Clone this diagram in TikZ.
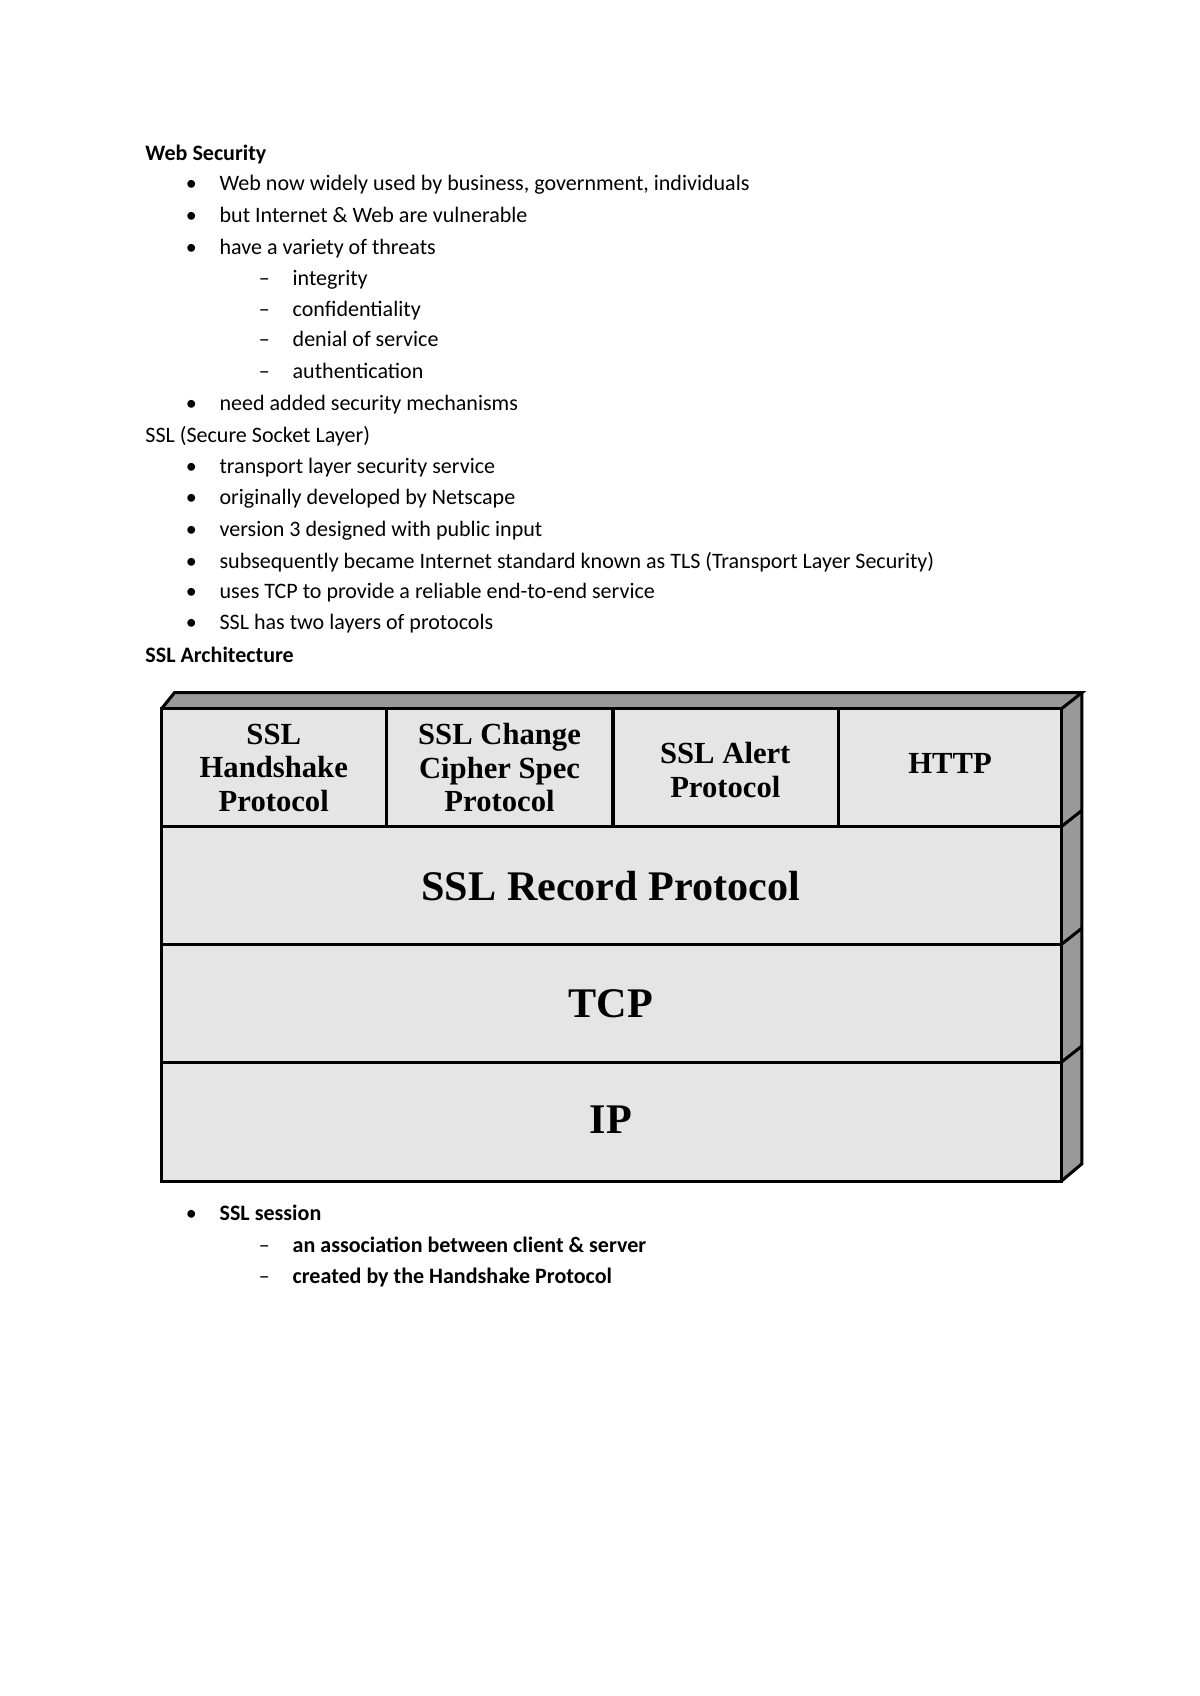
\documentclass[tikz,border=0pt]{standalone}
\usepackage{fontspec}
\setmainfont{Carlito}
\newfontfamily\tms{Liberation Serif}
\begin{document}
\begin{tikzpicture}[x=0.02cm,y=-0.02cm,
  txt/.style={anchor=base west,inner sep=0pt,font=\fontsize{11.5}{14}\selectfont},
  hd/.style={txt,font=\fontsize{11.5}{14}\selectfont\bfseries},
  cell/.style={align=center,font=\tms\bfseries\fontsize{16}{17.5}\selectfont,inner sep=0pt},
  big/.style={font=\tms\bfseries\fontsize{22}{24}\selectfont,inner sep=0pt},
  fr/.style={draw=black,line width=1.6pt}]
\useasboundingbox (0,0) rectangle (1100,1555);
% text
\node[hd] (h1) at (133,147) {Web Security};
\foreach \y/\t in {175/{Web now widely used by business, government, individuals},
  204/{but Internet \& Web are vulnerable}, 233/{have a variety of threats},
  376/{need added security mechanisms}, 434/{transport layer security service},
  463/{originally developed by Netscape}, 492/{version 3 designed with public input},
  521/{subsequently became Internet standard known as TLS (Transport Layer Security)},
  549/{uses TCP to provide a reliable end-to-end service}, 577/{SSL has two layers of protocols}}
  {\node[txt] at (170,\y) {•}; \node[txt] at (201,\y) {\t};}
\foreach \y/\t in {262/integrity,290/confidentiality,318/denial of service,347/authentication}
  {\node[txt] at (237,\y) {–}; \node[txt] at (268,\y) {\t};}
\node[txt] (h2) at (133,406) {SSL (Secure Socket Layer)};
\node[hd] (h3) at (133,607) {SSL Architecture};
\node[txt] at (170,1119) {•}; \node[hd] at (201,1119) {SSL session};
\node[txt] at (237,1148) {–}; \node[hd] at (268,1148) {an association between client \& server};
\node[txt] at (237,1177) {–}; \node[hd] at (268,1177) {created by the Handshake Protocol};
% box
\fill[gray!80] (148,650) -- (160,635) -- (992,635) -- (992,1067) -- (973,1083) -- (973,650) -- cycle;
\draw[fr] (148,650) -- (160,635) -- (992,635) -- (973,650);
\draw[fr] (992,635) -- (992,1067) -- (973,1083);
\foreach \y in {758,866,974} \draw[fr] (973,\y) -- (992,\y-15);
\fill[black!10] (148,650) rectangle (973,1083);
\draw[fr] (148,650) rectangle (973,1083);
\foreach \y in {758,866,974} \draw[fr] (148,\y) -- (973,\y);
\foreach \x in {354,562,769} \draw[fr] (\x,650) -- (\x,758);
\node[cell] (c1) at (251,704) {SSL\\Handshake\\Protocol};
\node[cell] (c2) at (458,704) {SSL Change\\Cipher Spec\\Protocol};
\node[cell] (c3) at (665,706) {SSL Alert\\Protocol};
\node[cell] (c4) at (871,700) {HTTP};
\node[big] (r) at (560,812) {SSL Record Protocol};
\node[big] (t) at (560,920) {TCP};
\node[big] (i) at (560,1027) {IP};
\end{tikzpicture}
\end{document}
